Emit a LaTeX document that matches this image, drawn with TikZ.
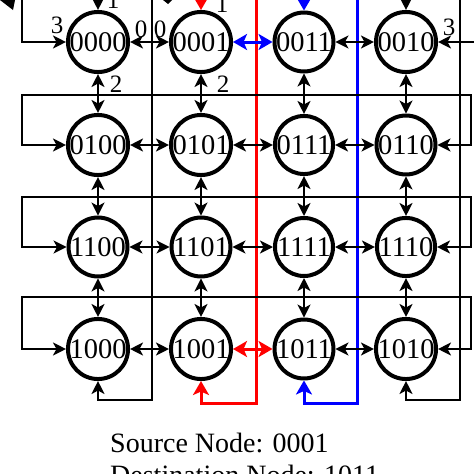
\documentclass[tikz,border=0pt]{standalone}
\usepackage{fontspec}
\setmainfont{Liberation Serif}
\usetikzlibrary{arrows.meta}
\begin{document}
\begin{tikzpicture}[x=1pt,y=-1pt,
  nd/.style={circle, draw, line width=4pt, minimum size=58pt, inner sep=0pt, font=\fontsize{28.5}{30}\selectfont},
  ln/.style={line width=1.9pt, black},
  dbl/.style={{Stealth[length=13pt,width=13pt,inset=3.5pt]}-{Stealth[length=13pt,width=13pt,inset=3.5pt]}},
  cdbl/.style={{Stealth[length=14pt,width=16pt,inset=3.5pt]}-{Stealth[length=14pt,width=16pt,inset=3.5pt]}},
  lb/.style={font=\fontsize{25}{27}\selectfont, inner sep=0pt, anchor=base},
  rd/.style={line width=3pt, red},
  bl/.style={line width=3pt, blue},
  captxt/.style={font=\fontsize{28}{30}\selectfont, inner sep=0pt, anchor=base west}]
\clip (0,0) rectangle (474,474);
% nodes
\node[nd] (n00) at (98,42) {0000};
\node[nd] (n01) at (201,42) {0001};
\node[nd] (n02) at (304,42) {0011};
\node[nd] (n03) at (406,42) {0010};
\node[nd] (n10) at (98,145) {0100};
\node[nd] (n11) at (201,145) {0101};
\node[nd] (n12) at (304,145) {0111};
\node[nd] (n13) at (406,145) {0110};
\node[nd] (n20) at (98,247) {1100};
\node[nd] (n21) at (201,247) {1101};
\node[nd] (n22) at (304,247) {1111};
\node[nd] (n23) at (406,247) {1110};
\node[nd] (n30) at (98,349) {1000};
\node[nd] (n31) at (201,349) {1001};
\node[nd] (n32) at (304,349) {1011};
\node[nd] (n33) at (406,349) {1010};
% colored wrap lines (behind)
\draw[rd, cdbl] (n31.south) |- (256,403) -- (256,-30) -| (n01.north);
\draw[bl, cdbl] (n32.south) |- (357,403) -- (357,-30) -| (n02.north);
% row wraps
\draw[ln, dbl] (n03.east) -| (495,-40) -| (22,42) -- (n00.west);
\draw[ln, dbl] (n13.east) -| (471,95) -| (22,145) -- (n10.west);
\draw[ln, dbl] (n23.east) -| (471,197) -| (22,247) -- (n20.west);
\draw[ln, dbl] (n33.east) -| (471,297) -| (22,349) -- (n30.west);
% column wraps
\draw[ln, dbl] (n30.south) |- (152,400) -- (152,-40) -| (n00.north);
\draw[ln, dbl] (n33.south) |- (460,400) -- (460,-40) -| (n03.north);
% horizontal neighbours
\draw[ln, dbl] (n00.east) -- (n01.west);
\draw[bl, cdbl] (n01.east) -- (n02.west);
\draw[ln, dbl] (n02.east) -- (n03.west);
\foreach \r in {1,2}{
  \draw[ln, dbl] (n\r0.east) -- (n\r1.west);
  \draw[ln, dbl] (n\r1.east) -- (n\r2.west);
  \draw[ln, dbl] (n\r2.east) -- (n\r3.west);
}
\draw[ln, dbl] (n30.east) -- (n31.west);
\draw[rd, cdbl] (n31.east) -- (n32.west);
\draw[ln, dbl] (n32.east) -- (n33.west);
% vertical neighbours
\foreach \c in {0,1,2,3}{
  \draw[ln, dbl] (n0\c.south) -- (n1\c.north);
  \draw[ln, dbl] (n1\c.south) -- (n2\c.north);
  \draw[ln, dbl] (n2\c.south) -- (n3\c.north);
}
% cut-off marks at the top
\fill (0,0) -- (15,0) -- (13,10) -- cycle;
\fill (163,0) -- (172,0) -- (168,4) -- cycle;
% port labels
\node[lb] (l1) at (113,8) {1};
\node[lb] (l2) at (57,33) {3};
\node[lb] (l3) at (141,37) {0};
\node[lb] (l4) at (160,37) {0};
\node[lb] (l5) at (116,92) {2};
\node[lb] (l6) at (222,12) {1};
\node[lb] (l7) at (223,92) {2};
\node[lb] (l8) at (449,35) {3};
% caption
\node[captxt] (c1) at (110,452) {Source Node: 0001};
\node[captxt] (c2) at (110,484) {Destination Node: 1011};
\end{tikzpicture}
\end{document}
